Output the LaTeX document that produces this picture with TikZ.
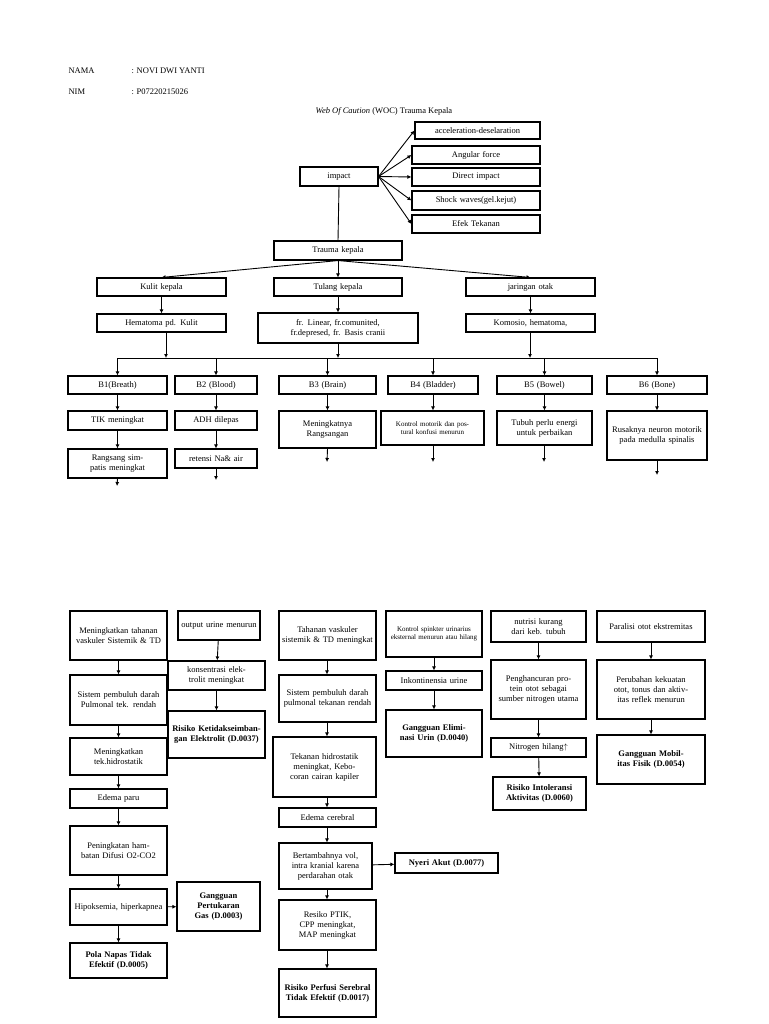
\documentclass[tikz,border=0pt]{standalone}
\usepackage{fontspec}
\setmainfont{Liberation Serif}
\usetikzlibrary{arrows.meta}
\newcommand\bx[7][]{\node[box,#1,minimum width={#4pt-#3pt},minimum height={#6pt-#5pt},text width={#4pt-#3pt-6pt}] (#2) at ({(#3+#4)/2},{(#5+#6)/2}) {#7};}
\tikzset{box/.style={draw,line width=1.1pt,inner sep=0pt,align=center,font=\fontsize{8.5}{10}\selectfont},
 ar/.style={line width=0.9pt,-{Latex[length=4pt,width=4pt]}},
 ln/.style={line width=0.9pt},
 sm/.style={font=\fontsize{7}{8.5}\selectfont},
 bd/.style={font=\fontsize{8.5}{10}\selectfont\bfseries}}
\begin{document}
\begin{tikzpicture}[x=1pt,y=-1pt]
\useasboundingbox[fill=white] (0,0) rectangle (768,1024);
\begin{scope}[every node/.style={anchor=west,font=\fontsize{8.5}{10}\selectfont}]
\node (n1) at (65,71) {NAMA}; \node (n2) at (128,71) {: NOVI DWI YANTI};
\node (n3) at (65,92) {NIM}; \node (n4) at (128,92) {: P07220215026};
\end{scope}
\node[font=\fontsize{8.5}{10}\selectfont] (title) at (384,111) {\textit{Web Of Caution} (WOC) Trauma Kepala};
\bx{imp}{300}{378}{167}{186}{impact}
\bx{a1}{415}{540}{122}{139}{acceleration-deselaration}
\bx{a2}{412}{540}{146}{164}{Angular force}
\bx{a3}{412}{540}{168}{186}{Direct impact}
\bx{a4}{412}{540}{191}{210}{Shock waves(gel.kejut)}
\bx{a5}{412}{540}{215}{233}{Efek Tekanan}
\foreach \i in {a1,a2,a3,a4,a5} \draw[ar] (imp.east) -- (\i.west);
\bx{tk}{274}{402}{241}{260}{Trauma kepala}
\draw[ln] (imp.south) -- (tk.north);
\bx{kk}{97}{226}{278}{296}{Kulit kepala}
\bx{tl}{274}{402}{278}{296}{Tulang kepala}
\bx{jo}{466}{595}{278}{296}{jaringan otak}
\foreach \i in {kk,tl,jo} \draw[ar] (tk.south) -- (\i.north);
\bx{hm}{97}{226}{314}{332}{Hematoma pd. Kulit}
\bx{fr}{258}{418}{313}{343}{fr. Linear, fr.comunited, fr.depresed, fr. Basis cranii}
\bx{km}{466}{595}{314}{332}{Komosio, hematoma,}
\draw[ar] (kk) -- (hm); \draw[ar] (tl) -- (fr); \draw[ar] (jo) -- (km);
\coordinate (h1) at (166,358); \coordinate (h2) at (338,358); \coordinate (h3) at (530,358);
\draw[ar] (hm.south -| h1) -- (h1); \draw[ar] (fr.south) -- (h2); \draw[ar] (km.south -| h3) -- (h3);
\bx{b1}{68}{167}{376}{394}{B1(Breath)}
\bx{b2}{175}{257}{376}{394}{B2 (Blood)}
\bx{b3}{279}{376}{376}{394}{B3 (Brain)}
\bx{b4}{388}{478}{376}{394}{B4 (Bladder)}
\bx{b5}{497}{592}{376}{394}{B5 (Bowel)}
\bx{b6}{607}{707}{376}{394}{B6 (Bone)}
\draw[ln] (b1.north |- h1) -- (b6.north |- h1);
\foreach \i in {b1,b2,b3,b4,b5,b6} \draw[ar] (\i.north |- h1) -- (\i.north);
\bx{c1}{68}{167}{411}{430}{TIK meningkat}
\bx{c2}{175}{257}{411}{430}{ADH dilepas}
\bx{c3}{279}{376}{411}{448}{Meningkatnya Rangsangan}
\bx[sm]{c4}{381}{484}{411}{445}{Kontrol motorik dan postural konfusi menurun}
\bx{c5}{497}{592}{411}{445}{Tubuh perlu energi untuk perbaikan}
\bx{c6}{607}{707}{411}{460}{Rusaknya neuron motorik pada medulla spinalis}
\foreach \i/\j in {b1/c1,b2/c2,b3/c3,b5/c5,b6/c6} \draw[ar] (\i) -- (\j);
\draw[ar] (b4.south) -- (b4.south |- c4.north);
\bx{d1}{68}{167}{449}{478}{Rangsang simpatis meningkat}
\bx{d2}{175}{257}{449}{468}{retensi Na\& air}
\draw[ar] (c1) -- (d1); \draw[ar] (c2) -- (d2);
\coordinate (e1) at (117,486); \coordinate (e2) at (216,480); \coordinate (e3) at (327,462);
\coordinate (e4) at (433,462); \coordinate (e5) at (544,462); \coordinate (e6) at (657,475);
\draw[ar] (d1.south) -- (e1); \draw[ar] (d2.south) -- (e2); \draw[ar] (c3.south) -- (e3);
\draw[ar] (c4.south -| e4) -- (e4); \draw[ar] (c5.south -| e5) -- (e5); \draw[ar] (c6.south -| e6) -- (e6);
% bottom
\bx{p1}{70}{167}{611}{660}{Meningkatkan tahanan vaskuler Sistemik \& TD}
\bx{p2}{70}{167}{675}{725}{Sistem pembuluh darah Pulmonal tek. rendah}
\bx{p3}{70}{167}{738}{775}{Meningkatkan tek.hidrostatik}
\bx{p4}{70}{167}{789}{808}{Edema paru}
\bx{p5}{70}{167}{826}{875}{Peningkatan hambatan Difusi O2-CO2}
\bx{p6}{70}{167}{889}{925}{Hipoksemia, hiperkapnea}
\bx[bd]{p7}{70}{167}{943}{978}{Pola Napas Tidak Efektif (D.0005)}
\bx[bd]{pg}{177}{260}{882}{931}{Gangguan Pertukaran Gas (D.0003)}
\foreach \i/\j in {p1/p2,p2/p3,p3/p4,p4/p5,p5/p6,p6/p7} \draw[ar] (\i) -- (\j);
\draw[ar] (p6) -- (pg);
\bx{q1}{178}{260}{611}{640}{output urine menurun}
\bx{q2}{168}{265}{661}{690}{konsentrasi elektrolit meningkat}
\bx[bd]{q3}{168}{265}{711}{758}{Risiko Ketidakseimbangan Elektrolit (D.0037)}
\draw[ar] (q1) -- (q2); \draw[ar] (q2) -- (q3);
\bx{r1}{279}{376}{611}{660}{Tahanan vaskuler sistemik \& TD meningkat}
\bx{r2}{279}{376}{675}{722}{Sistem pembuluh darah pulmonal tekanan rendah}
\bx{r3}{273}{376}{737}{797}{Tekanan hidrostatik meningkat, Kebocoran cairan kapiler}
\bx{r4}{279}{376}{808}{827}{Edema cerebral}
\bx{r5}{279}{372}{843}{889}{Bertambahnya vol, intra kranial karena perdarahan otak}
\bx{r6}{279}{376}{900}{950}{Resiko PTIK, CPP meningkat, MAP meningkat}
\bx[bd]{r7}{279}{376}{969}{1017}{Risiko Perfusi Serebral Tidak Efektif (D.0017)}
\bx[bd]{rn}{395}{498}{853}{873}{Nyeri Akut (D.0077)}
\coordinate (rx) at (327,0);
\foreach \i/\j in {r1/r2,r2/r3,r3/r4,r4/r5,r5/r6,r6/r7} \draw[ar] (\i.south -| rx) -- (\j.north -| rx);
\draw[ar] (r5) -- (rn);
\bx[sm]{s1}{386}{482}{611}{657}{Kontrol spinkter urinarius eksternal menurun atau hilang}
\bx{s2}{386}{482}{671}{690}{Inkontinensia urine}
\bx[bd]{s3}{386}{482}{710}{757}{Gangguan Eliminasi Urin (D.0040)}
\draw[ar] (s1) -- (s2); \draw[ar] (s2) -- (s3);
\bx{t1}{491}{586}{611}{642}{nutrisi kurang dari keb. tubuh}
\bx{t2}{491}{586}{660}{719}{Penghancuran protein otot sebagai sumber nitrogen utama}
\bx{t3}{491}{586}{738}{757}{Nitrogen hilang$\uparrow$}
\bx[bd]{t4}{493}{586}{777}{810}{Risiko Intoleransi Aktivitas (D.0060)}
\draw[ar] (t1) -- (t2); \draw[ar] (t2) -- (t3); \draw[ar] (t3) -- (t4);
\bx{u1}{597}{705}{611}{642}{Paralisi otot ekstremitas}
\bx{u2}{597}{705}{660}{719}{Perubahan kekuatan otot, tonus dan aktivitas reflek menurun}
\bx[bd]{u3}{597}{705}{735}{784}{Gangguan Mobilitas Fisik (D.0054)}
\draw[ar] (u1) -- (u2); \draw[ar] (u2) -- (u3);
\end{tikzpicture}
\end{document}
